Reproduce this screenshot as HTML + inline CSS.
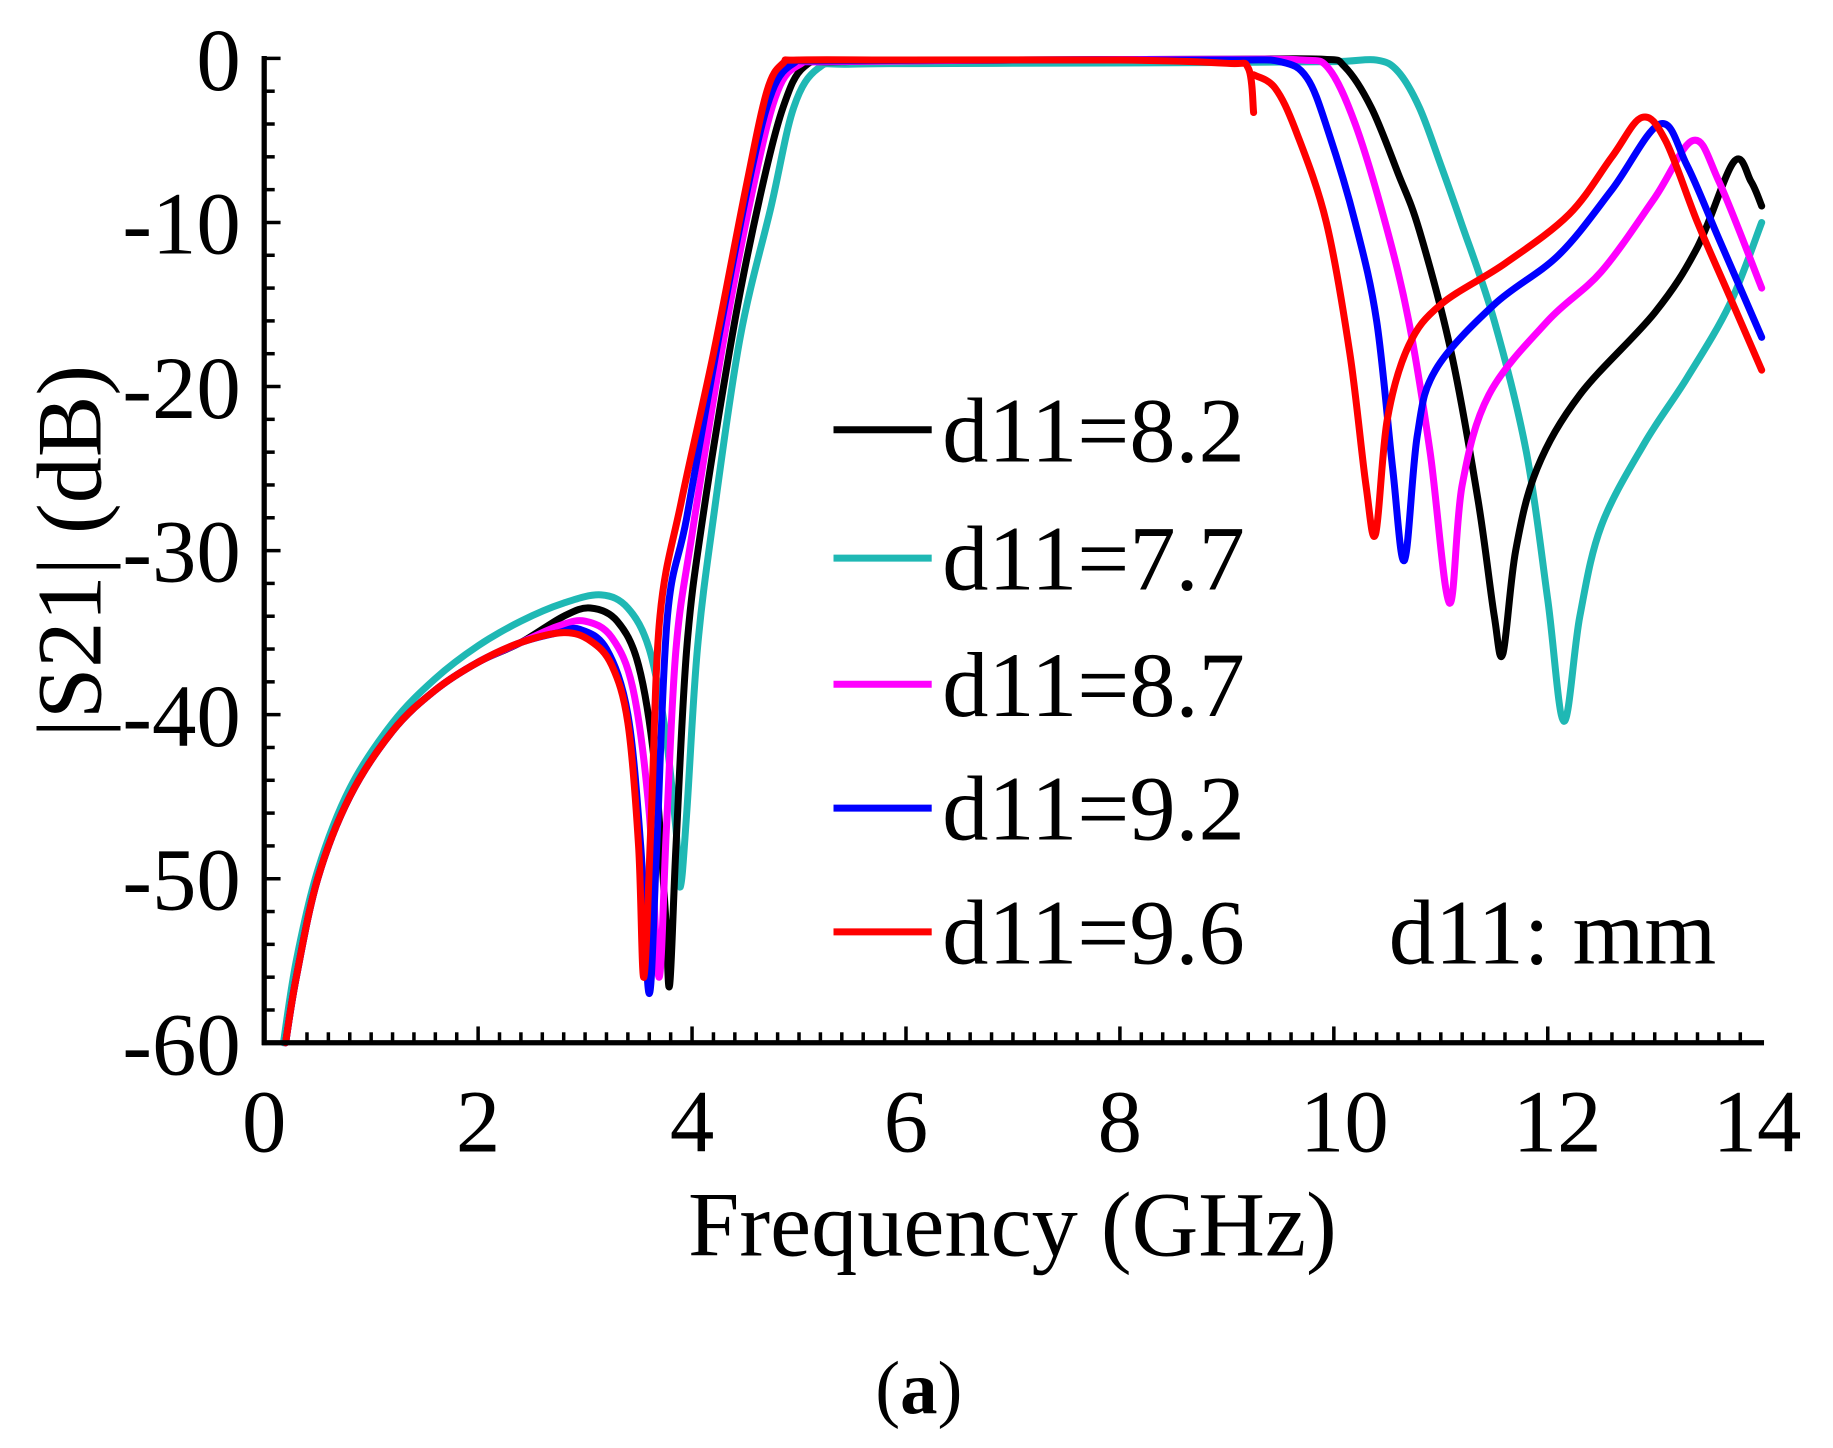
<!DOCTYPE html>
<html><head><meta charset="utf-8"><style>
html,body{margin:0;padding:0;background:#fff}
svg{display:block}
text{font-family:"Liberation Serif",serif;fill:#000}
</style></head><body>
<svg id="s" width="1833" height="1448" viewBox="0 0 1568 1240" preserveAspectRatio="none" xmlns="http://www.w3.org/2000/svg">
<g id="ticks" stroke="#000" stroke-width="3"></g>
<g id="curves" fill="none" stroke-width="6" stroke-linejoin="round" stroke-linecap="round"></g>
<line x1="226" y1="48" x2="226" y2="895" stroke="#000" stroke-width="4.5"/>
<line x1="224" y1="893" x2="1509" y2="893" stroke="#000" stroke-width="4.5"/>
<g font-size="76" text-anchor="end">
<text x="206" y="77">0</text>
<text x="206" y="217">-10</text>
<text x="206" y="358">-20</text>
<text x="206" y="498">-30</text>
<text x="206" y="639">-40</text>
<text x="206" y="779">-50</text>
<text x="206" y="920">-60</text>
</g>
<g font-size="76" text-anchor="middle">
<text x="226" y="986">0</text>
<text x="409" y="986">2</text>
<text x="592" y="986">4</text>
<text x="775" y="986">6</text>
<text x="958" y="986">8</text>
<text x="1150" y="986">10</text>
<text x="1332" y="986">12</text>
<text x="1503" y="986">14</text>
</g>
<text x="866" y="1075" font-size="79" text-anchor="middle">Frequency (GHz)</text>
<text transform="translate(86,472) rotate(-90)" font-size="79" text-anchor="middle">|S21| (dB)</text>
<text x="786" y="1210" font-size="64" text-anchor="middle">(<tspan font-weight="bold">a</tspan>)</text>
<g stroke-width="6">
<line x1="713" y1="368" x2="797" y2="368" stroke="#000"/>
<line x1="713" y1="478" x2="797" y2="478" stroke="#1fb8b4"/>
<line x1="713" y1="586" x2="797" y2="586" stroke="#ff00ff"/>
<line x1="713" y1="692" x2="797" y2="692" stroke="#0000ff"/>
<line x1="713" y1="798" x2="797" y2="798" stroke="#ff0000"/>
</g>
<g font-size="79">
<text x="806" y="395">d11=8.2</text>
<text x="806" y="505">d11=7.7</text>
<text x="806" y="613">d11=8.7</text>
<text x="806" y="719">d11=9.2</text>
<text x="806" y="825">d11=9.6</text>
<text x="1188" y="825">d11: mm</text>
</g>
</svg>
<script>
var X0=226,SX=91.5,Y0=50,SY=14.05;
function px(p){return [X0+p[0]*SX, Y0+p[1]*SY];}
var t=document.getElementById('ticks'),h='';
for(var i=1;i<70;i++){var x=X0+i*0.2*SX;var L=(i%10==0)?14:9;h+='<line x1="'+x+'" y1="893" x2="'+x+'" y2="'+(893-L)+'"/>';}
for(var j=0;j<30;j++){var y=Y0+j*2*SY;var L=(j%5==0)?14:9;h+='<line x1="226" y1="'+y+'" x2="'+(226+L)+'" y2="'+y+'"/>';}
t.innerHTML=h;
function path(pts){
 var P=pts.map(px),d='M'+P[0][0]+','+P[0][1];
 for(var i=0;i<P.length-1;i++){
  var p0=P[i-1]||P[i],p1=P[i],p2=P[i+1],p3=P[i+2]||P[i+1];
  var c1=[p1[0]+(p2[0]-p0[0])/6,p1[1]+(p2[1]-p0[1])/6];
  var c2=[p2[0]-(p3[0]-p1[0])/6,p2[1]-(p3[1]-p1[1])/6];
  d+=' C'+c1[0]+','+c1[1]+' '+c2[0]+','+c2[1]+' '+p2[0]+','+p2[1];
 }
 return d;}
var low=[[0.2,60],[0.3,56],[0.5,50],[0.8,45],[1.2,41],[1.6,38.5],[2.0,36.8],[2.4,35.6]];
var series=[
['#1fb8b4',[[0.18,60],[0.3,55],[0.5,49.5],[0.8,44.5],[1.2,40.5],[1.6,37.8],[2.0,35.8],[2.4,34.3],[2.8,33.2],[3.15,32.7],[3.4,33.5],[3.6,36],[3.75,41],[3.85,47],[3.89,50.5],[3.95,46],[4.05,36],[4.2,28],[4.45,17],[4.74,9],[4.95,3],[5.18,0.6],[5.5,0.35],[7,0.3],[9,0.25],[10,0.2],[10.4,0.1],[10.6,0.8],[10.8,3],[11.0,6.5],[11.19,10],[11.5,16],[11.8,24],[12.0,33],[12.15,40.4],[12.3,34],[12.5,28.5],[12.9,23.5],[13.3,19.5],[13.7,15],[14,10]]],
['#000000',low.concat([[2.8,34],[3.05,33.5],[3.3,34.3],[3.5,37],[3.65,43],[3.75,52],[3.79,56.5],[3.85,48],[3.95,36],[4.1,28],[4.4,16],[4.65,8],[4.85,3],[5.05,0.5],[5.4,0.2],[7,0.1],[9,0.05],[9.9,0.05],[10.1,0.5],[10.35,3],[10.6,7],[10.8,10.5],[11.1,18],[11.35,27],[11.5,34],[11.58,36.3],[11.7,30],[11.9,25],[12.3,20.5],[13.0,15.5],[13.4,11.5],[13.74,6.3],[13.9,7.5],[14,9]])],
['#ff00ff',low.concat([[2.75,34.6],[3.0,34.3],[3.25,35.3],[3.45,38.5],[3.6,46],[3.69,56],[3.76,47],[3.85,36],[4.0,29],[4.3,17],[4.6,7],[4.8,2],[5.0,0.4],[5.3,0.2],[7,0.1],[9,0.05],[9.7,0.1],[9.95,0.6],[10.2,4],[10.48,10],[10.7,16],[10.9,24],[11.08,33.2],[11.2,26],[11.45,20.5],[12.0,16],[12.5,13],[13.0,8.5],[13.36,5],[13.6,7.5],[14,14]])],
['#0000ff',low.concat([[2.75,35.0],[2.95,34.8],[3.2,36],[3.4,40],[3.52,48],[3.6,57],[3.67,48],[3.77,34],[3.95,28],[4.25,17],[4.55,7],[4.75,2],[4.95,0.3],[5.2,0.15],[7,0.1],[9,0.1],[9.5,0.2],[9.75,1.2],[9.95,4.5],[10.2,10],[10.4,16],[10.55,25],[10.66,30.6],[10.78,23],[10.95,19],[11.5,15],[12.1,12],[12.6,8],[13.05,4],[13.3,6.5],[13.6,11],[14,17]])],
['#ff0000',low.concat([[2.8,35.0],[3.05,35.5],[3.25,37],[3.4,40.5],[3.5,48],[3.55,56],[3.62,46],[3.7,34],[3.9,27],[4.2,18],[4.5,8],[4.7,2],[4.85,0.3],[5.0,0.1],[6,0.1],[8,0.1],[9.0,0.3],[9.2,0.6],[9.25,3.3]]),
 [[9.25,1],[9.45,1.8],[9.65,4.5],[9.93,10],[10.15,18],[10.3,26],[10.39,29],[10.5,22],[10.7,17.5],[11.0,15],[11.6,12.5],[12.2,9.5],[12.6,6],[12.88,3.6],[13.1,5],[13.4,10],[13.7,14.5],[14,19]]]
];
var g=document.getElementById('curves'),s='';
series.forEach(function(a){var c=a[0];for(var k=1;k<a.length;k++)s+='<path stroke="'+c+'" d="'+path(a[k])+'"/>';});
g.innerHTML=s;
</script>
</body></html>
